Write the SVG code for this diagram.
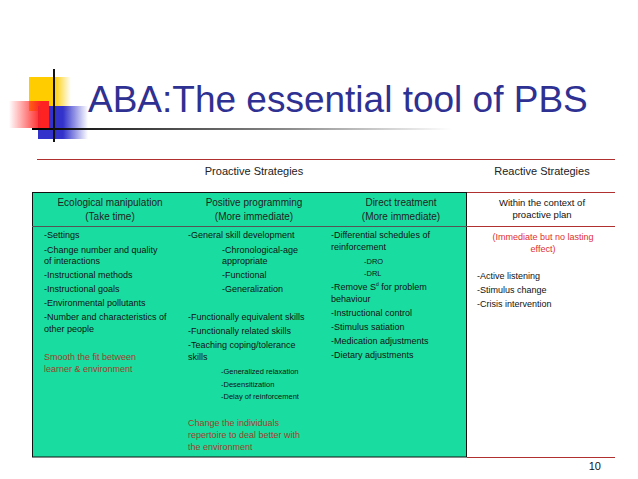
<svg xmlns="http://www.w3.org/2000/svg" width="638" height="479" viewBox="0 0 638 479">
<defs>
<linearGradient id="gy" x1="0" x2="1"><stop offset="0.6" stop-color="#FFCC00"/><stop offset="1" stop-color="#FFCC00" stop-opacity="0"/></linearGradient>
<linearGradient id="gb" x1="0" x2="1"><stop offset="0.5" stop-color="#3333CC"/><stop offset="1" stop-color="#3333CC" stop-opacity="0"/></linearGradient>
<linearGradient id="gr" x1="1" x2="0"><stop offset="0.2" stop-color="#FF2222"/><stop offset="1" stop-color="#FF2222" stop-opacity="0"/></linearGradient>
<linearGradient id="gl" x1="0" x2="1"><stop offset="0" stop-color="#000"/><stop offset="0.6" stop-color="#888"/><stop offset="1" stop-color="#fff"/></linearGradient>
<style>
text{font-family:"Liberation Sans",Arial,sans-serif;fill:#111}
.s{font-size:9px}
.xs{font-size:7.5px}
.h{font-size:10px;fill:#222}
.r{fill:#A0402A}
.rr{fill:#E03030}
.red{stroke:#B03030;stroke-width:1}
</style>
</defs>
<g id="logo">
<rect x="29" y="77" width="42" height="34" fill="url(#gy)"/>
<rect x="38" y="106" width="50" height="33" fill="url(#gb)"/>
<rect x="9" y="101" width="40" height="27" fill="url(#gr)"/>
<rect x="32" y="128" width="420" height="2" fill="url(#gl)"/>
<rect x="53" y="69" width="2" height="73" fill="#111"/>
</g>
<text x="88" y="112" style="font-size:37px;fill:#2E3192">ABA:The essential tool of PBS</text>
<g id="lines">
<line class="red" x1="37" y1="159.5" x2="615" y2="159.5"/>
<line class="red" x1="467" y1="192.5" x2="615" y2="192.5"/>
<line class="red" x1="467" y1="226.5" x2="615" y2="226.5"/>
<line class="red" x1="467" y1="457.5" x2="615" y2="457.5"/>
</g>
<text class="h" x="254" y="175" text-anchor="middle" style="font-size:11px">Proactive Strategies</text>
<text class="h" x="542" y="175" text-anchor="middle" style="font-size:11px">Reactive Strategies</text>
<g id="green">
<rect x="32.5" y="192.5" width="434" height="264.5" fill="#19DDA0" stroke="#111" stroke-width="1"/>
<line x1="32" y1="226.5" x2="467" y2="226.5" stroke="#555" stroke-width="1"/>
</g>
<g id="col1">
<text class="h" x="110" y="206" text-anchor="middle">Ecological manipulation</text>
<text class="h" x="110" y="220" text-anchor="middle">(Take time)</text>
<text class="s" x="44" y="238">-Settings</text>
<text class="s" x="44" y="253">-Change number and quality</text>
<text class="s" x="44" y="264">of interactions</text>
<text class="s" x="44" y="278">-Instructional methods</text>
<text class="s" x="44" y="292">-Instructional goals</text>
<text class="s" x="44" y="306">-Environmental pollutants</text>
<text class="s" x="44" y="320">-Number and characteristics of</text>
<text class="s" x="44" y="332">other people</text>
<text class="s r" x="44" y="360">Smooth the fit between</text>
<text class="s r" x="44" y="372">learner &amp; environment</text>
</g>
<g id="col2">
<text class="h" x="254" y="206" text-anchor="middle">Positive programming</text>
<text class="h" x="254" y="220" text-anchor="middle">(More immediate)</text>
<text class="s" x="188" y="238">-General skill development</text>
<text class="s" x="222" y="253">-Chronological-age</text>
<text class="s" x="222" y="264">appropriate</text>
<text class="s" x="222" y="278">-Functional</text>
<text class="s" x="222" y="292">-Generalization</text>
<text class="s" x="188" y="320">-Functionally equivalent skills</text>
<text class="s" x="188" y="334">-Functionally related skills</text>
<text class="s" x="188" y="348">-Teaching coping/tolerance</text>
<text class="s" x="188" y="360">skills</text>
<text class="xs" x="221" y="374">-Generalized relaxation</text>
<text class="xs" x="221" y="387">-Desensitization</text>
<text class="xs" x="221" y="399">-Delay of reinforcement</text>
<text class="s r" x="188" y="426">Change the individuals</text>
<text class="s r" x="188" y="438">repertoire to deal better with</text>
<text class="s r" x="188" y="450">the environment</text>
</g>
<g id="col3">
<text class="h" x="401" y="206" text-anchor="middle">Direct treatment</text>
<text class="h" x="401" y="220" text-anchor="middle">(More immediate)</text>
<text class="s" x="331" y="238">-Differential schedules of</text>
<text class="s" x="331" y="250">reinforcement</text>
<text class="xs" x="364" y="264">-DRO</text>
<text class="xs" x="364" y="276">-DRL</text>
<text class="s" x="331" y="290">-Remove S<tspan font-size="5" dy="-4">d</tspan><tspan dy="4"> for problem</tspan></text>
<text class="s" x="331" y="302">behaviour</text>
<text class="s" x="331" y="316">-Instructional control</text>
<text class="s" x="331" y="330">-Stimulus satiation</text>
<text class="s" x="331" y="344">-Medication adjustments</text>
<text class="s" x="331" y="358">-Dietary adjustments</text>
</g>
<g id="col4">
<text class="s" x="542" y="206" text-anchor="middle" style="font-size:9.5px">Within the context of</text>
<text class="s" x="542" y="218" text-anchor="middle" style="font-size:9.5px">proactive plan</text>
<text class="s rr" x="543" y="240" text-anchor="middle">(Immediate but no lasting</text>
<text class="s rr" x="543" y="252" text-anchor="middle">effect)</text>
<text class="s" x="477" y="279">-Active listening</text>
<text class="s" x="477" y="293">-Stimulus change</text>
<text class="s" x="477" y="307">-Crisis intervention</text>
</g>
<text x="601" y="470" text-anchor="end" style="font-size:11px">10</text>
</svg>
